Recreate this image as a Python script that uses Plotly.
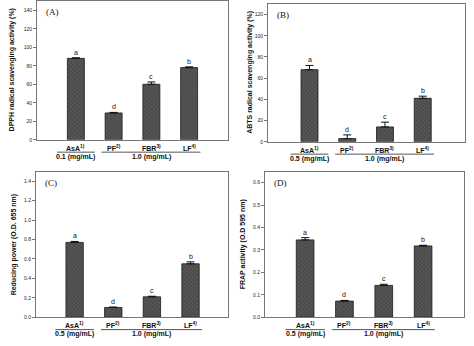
import plotly.graph_objects as go

W, H = 474, 346

categories = ["AsA", "PF", "FBR", "LF"]
cat_labels = ["AsA<sup>1)</sup>", "PF<sup>2)</sup>", "FBR<sup>3)</sup>", "LF<sup>4)</sup>"]
letters = ["a", "d", "c", "b"]

dpph_vals = [88, 29, 60, 78]
dpph_err = [0.6, 0.6, 2.5, 0.8]
abts_vals = [68, 3, 14, 41]
abts_err = [4, 3.5, 4.5, 2]
rp_vals = [0.77, 0.10, 0.21, 0.55]
rp_err = [0.01, 0.005, 0.006, 0.02]
frap_vals = [0.345, 0.072, 0.142, 0.318]
frap_err = [0.01, 0.003, 0.005, 0.003]

conc_asa = ["0.1 (mg/mL)", "0.5 (mg/mL)", "0.5 (mg/mL)", "0.5 (mg/mL)"]
conc_other = "1.0 (mg/mL)"

titles = ["DPPH radical scavenging activity (%)",
          "ABTS radical scavenging activity (%)",
          "Reducing power (O.D. 655 nm)",
          "FRAP activity (O.D 595 nm)"]
panel_tags = ["(A)", "(B)", "(C)", "(D)"]
yranges = [[0, 150], [0, 130], [0, 1.5], [0, 0.65]]
dticks = [20, 20, 0.2, 0.1]
tickfmts = ["d", "d", ".1f", ".1f"]
xranges = [[-1.03, 4.03], [-1.1, 4.12], [-1.0, 3.97], [-1.02, 4.04]]

# pixel boxes: left, right, top, bottom
boxes = [(37, 228, 1, 141), (268, 465, 4, 143), (36, 228, 173, 320), (265, 464, 173, 320)]
title_x = [12, 250, 14, 243]

series = [(dpph_vals, dpph_err), (abts_vals, abts_err), (rp_vals, rp_err), (frap_vals, frap_err)]

fig = go.Figure()
annotations = []
shapes = []
lab_font = dict(family="Liberation Sans, Arial", size=7, color="#111111")

for i in range(4):
    l, r, t, b = boxes[i]
    xa = "x" if i == 0 else f"x{i+1}"
    ya = "y" if i == 0 else f"y{i+1}"
    xkey = "xaxis" if i == 0 else f"xaxis{i+1}"
    ykey = "yaxis" if i == 0 else f"yaxis{i+1}"
    vals, err = series[i]
    xs = list(range(len(categories)))
    fig.add_trace(go.Bar(
        x=xs, y=vals, width=0.45, xaxis=xa, yaxis=ya,
        marker=dict(color="#4a4a4a", line=dict(color="#1a1a1a", width=0.8),
                    pattern=dict(shape="x", fgcolor="#8a8a8a", bgcolor="#4a4a4a", size=3, solidity=0.25)),
        error_y=dict(type="data", symmetric=False, array=err, arrayminus=[0] * 4,
                     color="#111111", thickness=1, width=4),
        showlegend=False,
    ))
    fig.layout[xkey] = dict(domain=[l / W, r / W], range=xranges[i], showticklabels=False,
                            showgrid=False, zeroline=False, showline=True, mirror=True,
                            linecolor="#777777", linewidth=1, ticks="", anchor=ya, fixedrange=True)
    fig.layout[ykey] = dict(domain=[1 - b / H, 1 - t / H], range=yranges[i], dtick=dticks[i],
                            tickformat=tickfmts[i], showgrid=False, zeroline=False, showline=True,
                            mirror=True, linecolor="#777777", linewidth=1, ticks="outside", ticklen=3,
                            tickcolor="#777777", tickfont=dict(family="Liberation Sans, Arial", size=5, color="#222222"),
                            anchor=xa, fixedrange=True)
    dh = b - t
    for j in range(4):
        annotations.append(dict(x=j, y=vals[j] + err[j], xref=xa, yref=ya, text=letters[j],
                                showarrow=False, yanchor="bottom", yshift=0,
                                font=dict(family="Liberation Sans, Arial", size=7, color="#111111")))
        annotations.append(dict(x=j, y=0, xref=xa, yref=f"{ya} domain", text="<b>" + cat_labels[j] + "</b>",
                                showarrow=False, yanchor="middle", yshift=-8, font=lab_font))
    annotations.append(dict(x=0, y=0, xref=xa, yref=f"{ya} domain", text="<b>" + conc_asa[i] + "</b>",
                            showarrow=False, yanchor="middle", yshift=-17, font=lab_font))
    annotations.append(dict(x=2, y=0, xref=xa, yref=f"{ya} domain", text="<b>" + conc_other + "</b>",
                            showarrow=False, yanchor="middle", yshift=-17, font=lab_font))
    yl = -12.5 / dh
    shapes.append(dict(type="line", xref=xa, yref=f"{ya} domain", x0=-0.5, x1=0.5, y0=yl, y1=yl,
                       line=dict(color="#555555", width=1)))
    shapes.append(dict(type="line", xref=xa, yref=f"{ya} domain", x0=0.68, x1=3.3, y0=yl, y1=yl,
                       line=dict(color="#555555", width=1)))
    annotations.append(dict(x=0, y=1, xref=f"{xa} domain", yref=f"{ya} domain", text=panel_tags[i],
                            showarrow=False, xanchor="left", yanchor="middle", xshift=7, yshift=-11,
                            font=dict(family="Liberation Serif, Times New Roman", size=9, color="#111111")))
    annotations.append(dict(x=title_x[i] / W, y=1 - (t + b) / 2 / H, xref="paper", yref="paper",
                            text="<b>" + titles[i] + "</b>", textangle=-90, showarrow=False,
                            xanchor="center", yanchor="middle",
                            font=dict(family="Liberation Sans, Arial", size=7, color="#111111")))

fig.update_layout(width=W, height=H, margin=dict(l=0, r=0, t=0, b=0),
                  paper_bgcolor="white", plot_bgcolor="white",
                  annotations=annotations, shapes=shapes, bargap=0.5)
fig.write_html("out.html")
